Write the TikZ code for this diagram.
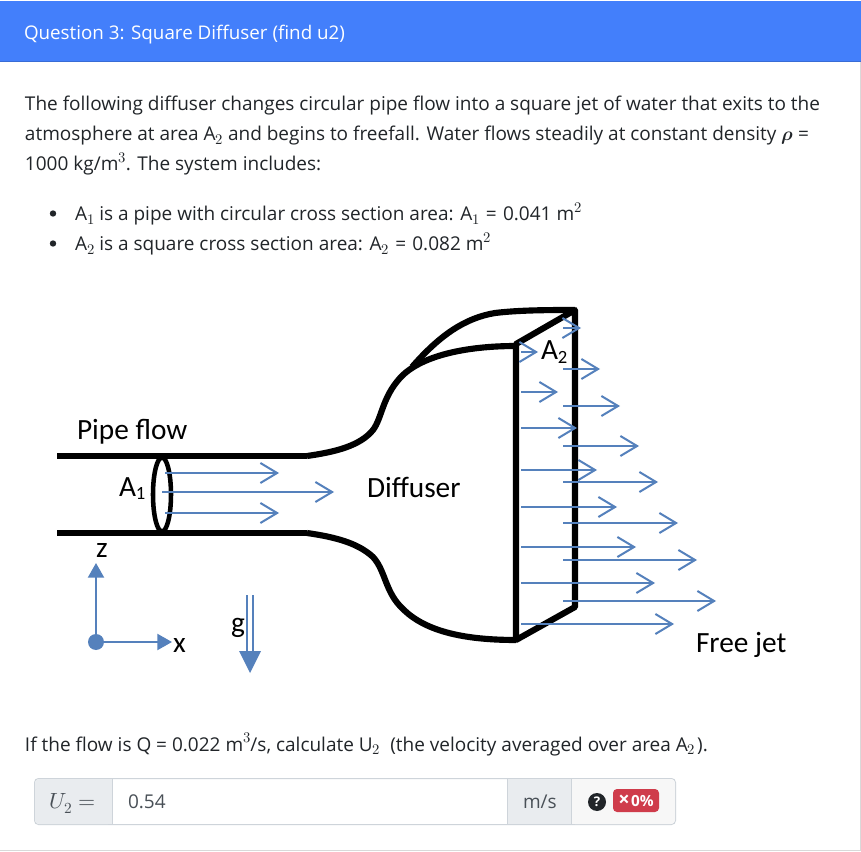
\documentclass[tikz,border=0pt]{standalone}
\usepackage{fontspec}
\usepackage{unicode-math}
\setmainfont{Open Sans}
\newfontfamily\figfont{Carlito}
\usetikzlibrary{arrows.meta}
\definecolor{hdr}{HTML}{437FFB}
\definecolor{flow}{HTML}{5581BC}
\definecolor{bodytxt}{HTML}{212529}
\definecolor{inptxt}{HTML}{495057}
\definecolor{seg}{HTML}{E9ECEF}
\definecolor{edge}{HTML}{CED4DA}
\definecolor{badge}{HTML}{CF3C4B}
\tikzset{
 txt/.style={anchor=base west,inner sep=0pt,outer sep=0pt,text=bodytxt,font=\fontsize{14.25}{16}\selectfont},
 figtxt/.style={anchor=base west,inner sep=0pt,outer sep=0pt,text=black,font=\figfont\fontsize{22}{24}\selectfont},
 wall/.style={line width=4.6pt,black,line cap=butt,line join=round},
 jet/.style={line width=1.5pt,flow,-{Straight Barb[length=12.5pt,width=15pt,line width=1.5pt]}},
 axis/.style={line width=1.6pt,flow,-{Triangle[length=11pt,width=12pt]}},
}
\newcommand{\dn}[1]{\raisebox{-2.8pt}{\fontsize{11}{11}\selectfont$#1$}}
\newcommand{\up}[1]{\raisebox{6.2pt}{\fontsize{11}{11}\selectfont$#1$}}
\begin{document}
\begin{tikzpicture}[x=0.75pt,y=-0.75pt]
\useasboundingbox (0,0) rectangle (861,852);
\fill[white] (0,0) rectangle (861,852);
% page and header
\fill[hdr] (0,1) rectangle (861,62);
\draw[line width=0.75pt,hdr!85!black] (0,61.5) -- (861,61.5);
\draw[line width=0.75pt,black!15] (0,850.5) -- (861,850.5);
\draw[line width=0.75pt,black!15] (860.5,62) -- (860.5,851);
\node[txt,text=white,font=\fontsize{14.1}{16}\selectfont] (title) at (24,39.7) {Question 3: Square Diffuser (find u2)};
% body
\node[txt] (l1) at (25,110.7) {The following diffuser changes circular pipe flow into a square jet of water that exits to the};
\node[txt] (l2) at (25,140.7) {atmosphere at area A\dn{2} and begins to freefall. Water flows steadily at constant density $\symbfit{\rho}$ =};
\node[txt] (l3) at (25,170.7) {1000 kg/m\up{3}. The system includes:};
\fill[bodytxt] (53,213.5) circle (3.2);
\fill[bodytxt] (53,243.5) circle (3.2);
\node[txt] (b1) at (75,220.7) {A\dn{1} is a pipe with circular cross section area: A\dn{1}\kern1pt{} = \kern1pt{}0.041 m\up{2}};
\node[txt] (b2) at (75,250.7) {A\dn{2} is a square cross section area: A\dn{2}\kern1pt{} = \kern1pt{}0.082 m\up{2}};
\node[txt] (q) at (25,751) {If the flow is Q = 0.022 m\up{3}/s, calculate U\dn{2}\kern4pt{} (the velocity averaged over area A\dn{2}\kern1.5pt{}).};
% figure: pipe
\draw[wall] (57,456) -- (307,456);
\draw[wall] (57,533) -- (307,533);
\draw[wall] (307,456) .. controls (335,452) and (360,446) .. (373,430) .. controls (382,418) and (382,398) .. (400,378) .. controls (420,356) and (465,346) .. (516,346);
\draw[wall] (307,533) .. controls (335,537) and (358,543) .. (373,557) .. controls (385,570) and (385,590) .. (400,606) .. controls (420,628) and (455,640) .. (516,640);
\draw[wall] (412,367) .. controls (440,335) and (465,318) .. (495,313) .. controls (520,310) and (550,310) .. (575,310);
\draw[wall] (516,640) -- (516,344) -- (575,310) -- (575,607) -- cycle;
\draw[line width=3.4pt,black] (162,494.5) ellipse (9 and 37);
% flow arrows
\foreach \ya/\xa/\xb in {473/165/279,492/162/334,513/165/279}
  \draw[jet] (\xa,\ya) -- (\xb,\ya);
\foreach \ya/\xb in {352/538,392/558,428/577,470/597,507/617,547/636,583/655,624/674}
  \draw[jet] (521,\ya) -- (\xb,\ya);
\foreach \ya/\xb in {328/581,369/600,406/620,446/639,482/658,523/678,560/697,601/716}
  \draw[jet] (563,\ya) -- (\xb,\ya);
% axes
\fill[flow] (96,642) circle (8);
\draw[axis] (96,642) -- (96,563);
\draw[axis] (96,642) -- (172,642);
\draw[line width=1.3pt,flow] (247,595) -- (247,653);
\draw[line width=1.3pt,flow] (253,595) -- (253,653);
\fill[flow] (239,651) -- (261,651) -- (250,673) -- cycle;
% figure labels
\node[figtxt] (pf) at (77,440) {Pipe flow};
\node[figtxt] (a1) at (119,496) {A\raisebox{-2.5pt}{\fontsize{14}{14}\selectfont 1}};
\node[figtxt] (df) at (367,498) {Diffuser};
\node[figtxt] (a2) at (541,360) {A\raisebox{-2.5pt}{\fontsize{14}{14}\selectfont 2}};
\node[figtxt] (fj) at (696,652) {Free jet};
\node[figtxt] (z) at (96,557) {z};
\node[figtxt] (x) at (173,652) {x};
\node[figtxt] (g) at (231,632) {g};
% answer bar
\draw[line width=0.75pt,edge,rounded corners=3pt,fill=white] (34.5,778.5) rectangle (675.5,824.5);
\fill[seg,rounded corners=3pt] (35,779) rectangle (112,824);
\fill[seg] (100,779) rectangle (112,824);
\fill[seg] (507,779) rectangle (571,824);
\fill[black!3,rounded corners=3pt] (571,779) rectangle (675,824);
\fill[black!3] (571,779) rectangle (585,824);
\draw[line width=0.75pt,edge] (112.5,779) -- (112.5,824);
\draw[line width=0.75pt,edge] (507.5,779) -- (507.5,824);
\draw[line width=0.75pt,edge] (571.5,779) -- (571.5,824);
\node[txt,text=inptxt,font=\fontsize{16.5}{18}\selectfont] (u) at (49,808) {$U_2 =$};
\node[txt,text=inptxt] (v) at (128,808) {0.54};
\node[txt,text=inptxt] (ms) at (523,808) {m/s};
\node[circle,fill=bodytxt,minimum size=18*0.75pt,inner sep=0pt,text=white,font=\bfseries\fontsize{10}{10}\selectfont] (hlp) at (597,802) {?};
\node[fill=badge,rounded corners=3pt,minimum width=46*0.75pt,minimum height=23*0.75pt,inner sep=0pt,text=white,font=\bfseries\fontsize{11.5}{10}\selectfont] (bd) at (636,800.5) {{\fontsize{15}{10}\selectfont×}\kern1pt 0\%};
\end{tikzpicture}
\end{document}
